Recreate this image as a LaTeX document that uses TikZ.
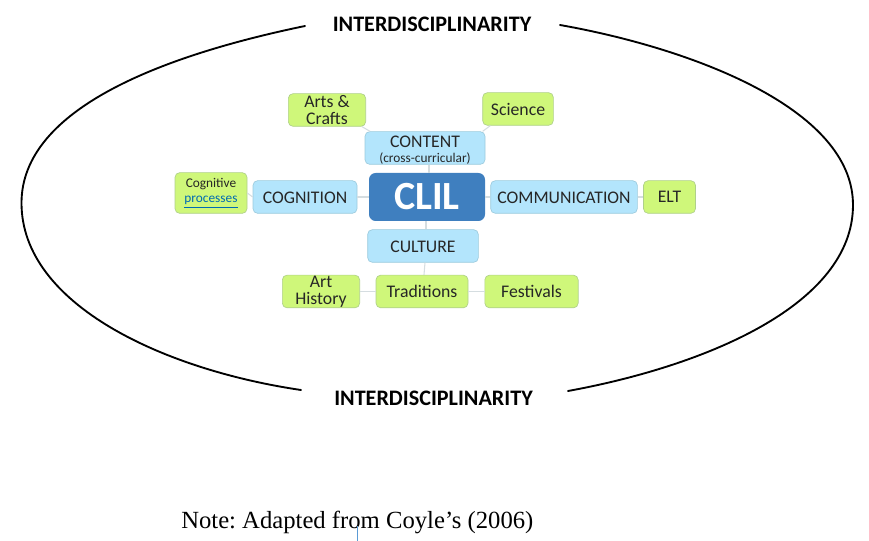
\documentclass[tikz,border=0pt]{standalone}
\usepackage{fontspec}
\setmainfont{Liberation Serif}
\setsansfont{Carlito}
\definecolor{clilblue}{HTML}{B3E5FC}
\definecolor{clilgreen}{HTML}{CFF77A}
\definecolor{clilmain}{HTML}{3F7FBF}
\definecolor{blueedge}{HTML}{9CCBDD}
\definecolor{greenedge}{HTML}{AFD08A}
\definecolor{linkgrey}{HTML}{D5DDE0}
\definecolor{cursorblue}{HTML}{5B9BD5}
\newcommand{\lowertext}[1]{\raisebox{-0.8pt}[\height][0pt]{#1}}
\tikzset{
  x=0.75pt,y=-0.75pt,
  bluebox/.style={draw=blueedge,line width=0.5pt,fill=clilblue,rounded corners=3.5pt,text=black!85,font=\sffamily\fontsize{13.3}{13}\selectfont,inner sep=0pt,align=center,anchor=center},
  greenbox/.style={draw=greenedge,line width=0.5pt,fill=clilgreen,rounded corners=3.5pt,text=black!85,font=\sffamily\fontsize{13.3}{12.8}\selectfont,inner sep=0pt,align=center,anchor=center},
  mainbox/.style={fill=clilmain,rounded corners=5pt,text=white,font=\sffamily\bfseries\fontsize{30}{32}\selectfont,inner sep=0pt,anchor=center},
  link/.style={draw=linkgrey,line width=0.8pt},
  outer/.style={draw=black,line width=1.4pt,line cap=round},
  title/.style={font=\sffamily\bfseries\fontsize{16.6}{18}\selectfont,text=black}
}
\begin{document}
\begin{tikzpicture}
\useasboundingbox (0,0) rectangle (869,541);
\node[mainbox,minimum width=87pt,minimum height=36pt] (clil) at (427,197) {CLIL};
\node[bluebox,minimum width=90pt,minimum height=24.5pt] (content) at (425,148) {\lowertext{CONTENT}\\[-1.5pt]\lowertext{\fontsize{10}{10}\selectfont(cross-curricular)}};
\node[bluebox,minimum width=78pt,minimum height=24.5pt] (cognition) at (305,197) {\lowertext{COGNITION}};
\node[bluebox,minimum width=110pt,minimum height=24.5pt] (comm) at (564,197) {\lowertext{COMMUNICATION}};
\node[bluebox,minimum width=83pt,minimum height=24.5pt] (culture) at (423,246) {\lowertext{CULTURE}};
\node[greenbox,minimum width=58pt,minimum height=24.5pt] (arts) at (327,110) {Arts \&\\Crafts};
\node[greenbox,minimum width=53pt,minimum height=24.5pt] (science) at (518,109) {Science};
\node[greenbox,minimum width=54pt,minimum height=30.5pt,font=\sffamily\fontsize{10}{11.5}\selectfont] (cogp) at (211,193) {Cognitive\\{\color{blue!40!cyan!70!black}\underline{processes}}};
\node[greenbox,minimum width=39pt,minimum height=24.5pt] (elt) at (669.5,197) {ELT};
\node[greenbox,minimum width=58pt,minimum height=24.5pt] (art) at (321,291.5) {Art\\History};
\node[greenbox,minimum width=69pt,minimum height=24.5pt] (trad) at (422,291.5) {Traditions};
\node[greenbox,minimum width=70pt,minimum height=24.5pt] (fest) at (531.5,291.5) {Festivals};
% connectors
\draw[link] ([xshift=1.5pt]clil.north) -- ([xshift=3pt]content.south);
\draw[link] (clil.west) -- (cognition.east);
\draw[link] (clil.east) -- (comm.west);
\draw[link] ([xshift=-0.75pt]clil.south) -- ([xshift=2.25pt]culture.north);
\draw[link] ([xshift=-3pt]arts.south east) -- ([xshift=4pt]content.north west);
\draw[link] ([xshift=6pt]science.south west) -- ([xshift=-2pt]content.north east);
\draw[link] (cognition.west) -- (cogp.east);
\draw[link] (comm) -- (elt);
\draw[link] ([xshift=1.5pt]culture.south) -- ([xshift=1.5pt]trad.north);
\draw[link] (trad) -- (art);
\draw[link] (trad) -- (fest);
% titles
\node[title] (top) at (432,24) {INTERDISCIPLINARITY};
\node[title] (bot) at (433.5,398) {INTERDISCIPLINARITY};
\coordinate (tl) at (305,26);
\coordinate (tr) at (560,25);
\coordinate (bl) at (301,390);
\coordinate (br) at (568,391);
\coordinate (ll) at (21.5,203);
\coordinate (rr) at (853,205);
\draw[outer] (tl) .. controls (165,55) and (21.5,108) .. (ll) .. controls (21.5,305) and (165,370) .. (bl);
\draw[outer] (tr) .. controls (690,48) and (853,108) .. (rr) .. controls (853,305) and (705,366) .. (br);
\node[anchor=base west,inner sep=0pt,font=\frenchspacing\fontsize{18.5}{20}\selectfont,text=black] (note) at (181,529) {Note: Adapted from Coyle’s (2006)};
\coordinate (cur1) at (357,526);
\coordinate (cur2) at (357,541);
\draw[draw=cursorblue,line width=0.6pt] (cur1) -- (cur2);
\end{tikzpicture}
\end{document}
